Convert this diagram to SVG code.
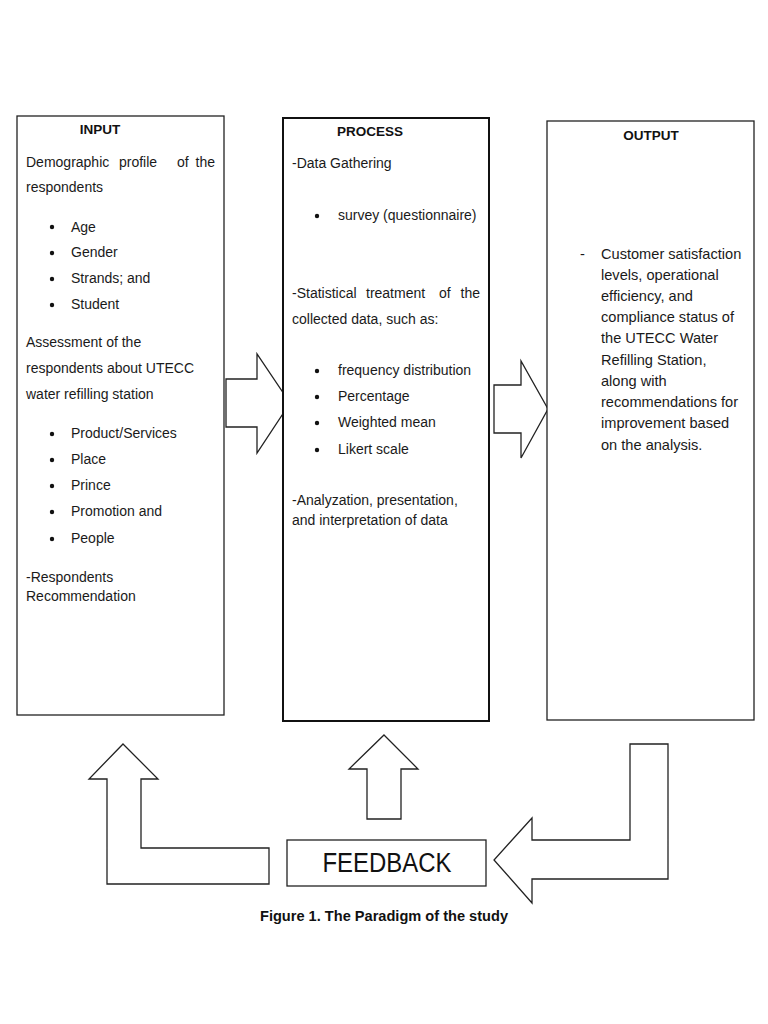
<svg xmlns="http://www.w3.org/2000/svg" width="768" height="1024" viewBox="0 0 768 1024">
<style>
.box{fill:#fff;stroke:#222;stroke-width:1.3}
.pbox{fill:#fff;stroke:#111;stroke-width:2}
.arr{fill:#fff;stroke:#222;stroke-width:1.3;stroke-linejoin:miter}
.t{font-family:"Liberation Sans",Arial,sans-serif;font-size:14px;fill:#1a1a1a}
.to{font-family:"Liberation Sans",Arial,sans-serif;font-size:14.6px;fill:#1a1a1a}
.h{font-family:"Liberation Sans",Arial,sans-serif;font-size:13.5px;font-weight:bold;fill:#111;text-anchor:middle}
.fb{font-family:"Liberation Sans",Arial,sans-serif;font-size:27px;fill:#111;text-anchor:middle}
.cap{font-family:"Liberation Sans",Arial,sans-serif;font-size:14px;font-weight:bold;fill:#111;text-anchor:middle}
.b{fill:#111}
</style>
<rect width="768" height="1024" fill="#fff"/>
<g id="connectors">
<polygon class="arr" points="226,379 257,379 257,354 290,403 257,453 257,427 226,427"/>
<polygon class="arr" points="494,385 521,385 521,361 548,409 521,458 521,433 494,433"/>
<polygon class="arr" points="123,744 158,779 141,779 141,848 269,848 269,884 107,884 107,779 89,779"/>
<polygon class="arr" points="384,735 418,769 401,769 401,819 367,819 367,769 349,769"/>
<polygon class="arr" points="630,744 668,744 668,879 532,879 532,903 494,860 532,818 532,840 630,840"/>
</g>
<g id="input">
<rect class="box" x="17" y="116" width="207" height="599"/>
<text class="h" x="100" y="134">INPUT</text>
<text class="t" y="167"><tspan x="26">Demographic</tspan><tspan x="119">profile</tspan><tspan x="177">of</tspan><tspan x="215" text-anchor="end">the</tspan></text>
<text class="t" x="26" y="192">respondents</text>
<circle class="b" cx="52" cy="227" r="2.2"/><text class="t" x="71" y="232">Age</text>
<circle class="b" cx="52" cy="253" r="2.2"/><text class="t" x="71" y="257">Gender</text>
<circle class="b" cx="52" cy="279" r="2.2"/><text class="t" x="71" y="283">Strands; and</text>
<circle class="b" cx="52" cy="305" r="2.2"/><text class="t" x="71" y="309">Student</text>
<text class="t" x="26" y="347">Assessment of the</text>
<text class="t" x="26" y="373">respondents about UTECC</text>
<text class="t" x="26" y="399">water refilling station</text>
<circle class="b" cx="52" cy="434" r="2.2"/><text class="t" x="71" y="438">Product/Services</text>
<circle class="b" cx="52" cy="460" r="2.2"/><text class="t" x="71" y="464">Place</text>
<circle class="b" cx="52" cy="486" r="2.2"/><text class="t" x="71" y="490">Prince</text>
<circle class="b" cx="52" cy="512" r="2.2"/><text class="t" x="71" y="516">Promotion and</text>
<circle class="b" cx="52" cy="539" r="2.2"/><text class="t" x="71" y="543">People</text>
<text class="t" x="26" y="582">-Respondents</text>
<text class="t" x="26" y="601">Recommendation</text>
</g>
<g id="process">
<rect class="pbox" x="283" y="118" width="206" height="603"/>
<text class="h" x="370" y="136">PROCESS</text>
<text class="t" x="292" y="168">-Data Gathering</text>
<circle class="b" cx="317" cy="216" r="2.2"/><text class="t" x="338" y="220">survey (questionnaire)</text>
<text class="t" y="298"><tspan x="292">-Statistical</tspan><tspan x="366">treatment</tspan><tspan x="439">of</tspan><tspan x="480" text-anchor="end">the</tspan></text>
<text class="t" x="292" y="324">collected data, such as:</text>
<circle class="b" cx="317" cy="371" r="2.2"/><text class="t" x="338" y="375">frequency distribution</text>
<circle class="b" cx="317" cy="397" r="2.2"/><text class="t" x="338" y="401">Percentage</text>
<circle class="b" cx="317" cy="423" r="2.2"/><text class="t" x="338" y="427">Weighted mean</text>
<circle class="b" cx="317" cy="450" r="2.2"/><text class="t" x="338" y="454">Likert scale</text>
<text class="t" x="292" y="505">-Analyzation, presentation,</text>
<text class="t" x="292" y="525">and interpretation of data</text>
</g>
<g id="output">
<rect class="box" x="547" y="121" width="207" height="599"/>
<text class="h" x="651" y="140">OUTPUT</text>
<text class="to" x="580" y="259">-</text>
<text class="to" x="601" y="259">Customer satisfaction</text>
<text class="to" x="601" y="280">levels, operational</text>
<text class="to" x="601" y="301">efficiency, and</text>
<text class="to" x="601" y="322">compliance status of</text>
<text class="to" x="601" y="343">the UTECC Water</text>
<text class="to" x="601" y="365">Refilling Station,</text>
<text class="to" x="601" y="386">along with</text>
<text class="to" x="601" y="407">recommendations for</text>
<text class="to" x="601" y="428">improvement based</text>
<text class="to" x="601" y="450">on the analysis.</text>
</g>
<g id="feedback">
<rect class="box" x="287" y="840" width="199" height="46"/>
<text class="fb" x="387" y="872" textLength="129" lengthAdjust="spacingAndGlyphs">FEEDBACK</text>
</g>
<g id="caption">
<text class="cap" x="384" y="921" textLength="248" lengthAdjust="spacingAndGlyphs">Figure 1. The Paradigm of the study</text>
</g>
</svg>
